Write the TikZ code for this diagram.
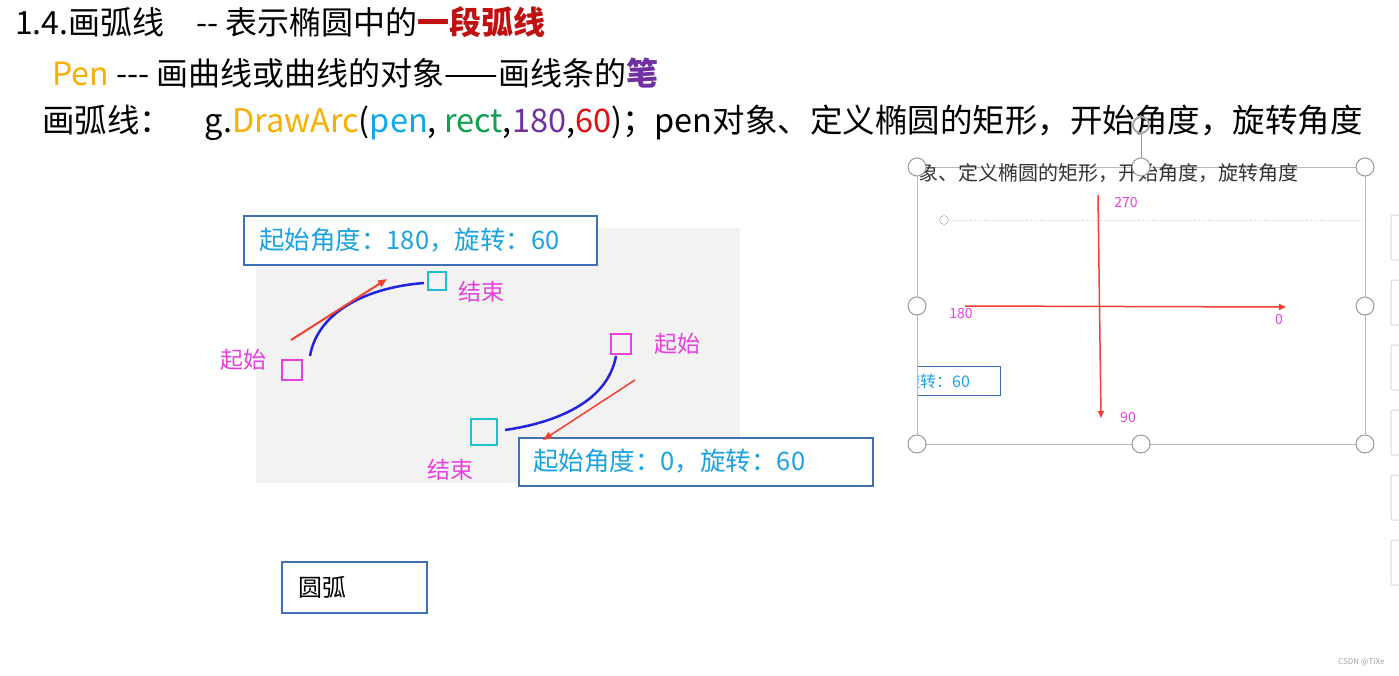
\documentclass[tikz,border=0pt]{standalone}
\usepackage{fontspec}
\setmainfont{Noto Sans CJK SC}
\usetikzlibrary{arrows.meta}
\definecolor{bxline}{HTML}{3F6FB5}
\definecolor{bxtext}{HTML}{1AA3E0}
\definecolor{mag}{HTML}{E83FE0}
\definecolor{cya}{HTML}{1CC0D0}
\definecolor{arcb}{HTML}{2222E0}
\definecolor{arr}{HTML}{F04030}
\definecolor{penor}{HTML}{F5B000}
\definecolor{cblue}{HTML}{10A8E8}
\definecolor{cgreen}{HTML}{10A050}
\definecolor{cpurple}{HTML}{7030A0}
\definecolor{cred}{HTML}{E01010}
\definecolor{dred}{HTML}{C01010}
\definecolor{hgray}{HTML}{999999}
\begin{document}
\begin{tikzpicture}[x=1pt,y=-1pt,
  lbox/.style={draw=bxline,line width=1.6pt,fill=white,anchor=north west,inner sep=0pt},
  btext/.style={text=bxtext,font=\fontsize{25.5}{28}\selectfont,anchor=west,inner sep=0pt},
  maglbl/.style={text=mag,font=\fontsize{23}{26}\selectfont},
  msq/.style={draw=mag,line width=2.5pt},
  csq/.style={draw=cya,line width=2.5pt},
  blarc/.style={draw=arcb,line width=2.5pt},
  redarr/.style={draw=arr,line width=2pt,-{Triangle[length=9pt,width=7pt]}},
  handle/.style={circle,draw=hgray,fill=white,line width=1pt,minimum size=18pt,inner sep=0pt},
  axlbl/.style={text=mag,font=\fontsize{14}{16}\selectfont}]
\useasboundingbox (0,0) rectangle (1399,675);
\fill[white] (0,0) rectangle (1399,675);
\node[anchor=west,inner sep=0pt,font=\fontsize{32}{35}\selectfont] (t1) at (15,22) {1.4.画弧线\quad{-}{-} 表示椭圆中的\textcolor{dred}{\textbf{一段弧线}}};
\node[anchor=west,inner sep=0pt,font=\fontsize{32}{35}\selectfont] (t2) at (52,73) {\textcolor{penor}{Pen} {-}{-}{-} 画曲线或曲线的对象——画线条的\textcolor{cpurple}{\textbf{笔}}};
\node[anchor=west,inner sep=0pt,font=\fontsize{32.5}{35}\selectfont] (t3) at (42,123) {画弧线：\quad g.\textcolor{penor}{DrawArc}(\textcolor{cblue}{pen}, \textcolor{cgreen}{rect},\textcolor{cpurple}{180},\textcolor{cred}{60})；pen对象、定义椭圆的矩形，开始角度，旋转角度};
% left panel
\fill[gray!10] (256,228) rectangle (740,483);
\node[lbox,minimum width=353pt,minimum height=49pt] (b1) at (243,215) {};
\node[btext] (b1t) at (259,240) {起始角度：180，旋转：60};
\node[lbox,minimum width=354pt,minimum height=48pt] (b2) at (518,437) {};
\node[btext] (b2t) at (533,461) {起始角度：0，旋转：60};
\node[lbox,minimum width=145pt,minimum height=51pt] (b3) at (281,561) {};
\node[anchor=west,inner sep=0pt,font=\fontsize{24}{26}\selectfont] (b3t) at (298,587) {圆弧};
\node[msq,minimum size=20pt,inner sep=0pt] (s1) at (292,370) {};
\node[csq,minimum size=18pt,inner sep=0pt] (e1) at (437,281) {};
\node[msq,minimum size=20pt,inner sep=0pt] (s2) at (621,344) {};
\node[csq,minimum size=26pt,inner sep=0pt] (e2) at (484,432) {};
\draw[blarc] (310,356) .. controls (318,310) and (370,287) .. (424,283);
\draw[blarc] (616,356) .. controls (608,400) and (560,422) .. (505,430);
\coordinate (a1s) at (291,340); \coordinate (a1e) at (387,279);
\coordinate (a2s) at (635,380); \coordinate (a2e) at (543,440);
\draw[redarr] (a1s) -- (a1e);
\draw[redarr,line width=1.5pt] (a2s) -- (a2e);
\node[maglbl] (l1) at (243,360) {起始};
\node[maglbl] (l2) at (481,292) {结束};
\node[maglbl] (l3) at (677,344) {起始};
\node[maglbl] (l4) at (450,470) {结束};
% right panel
\draw[hgray!70,line width=1pt] (917,167) rectangle (1365,444);
\begin{scope}
\clip (918,160) rectangle (1364,443);
\node[anchor=west,inner sep=0pt,font=\fontsize{20}{22}\selectfont,text=black!80] (rt) at (898,173) {对象、定义椭圆的矩形，开始角度，旋转角度};
\node[draw=bxline,line width=1.3pt,fill=white,anchor=west,minimum width=120pt,minimum height=29pt,inner sep=0pt] (rb) at (880,381) {};
\node[anchor=west,inner sep=0pt,text=bxtext,font=\fontsize{16}{18}\selectfont] (rbt) at (904,381) {旋转：60};
\end{scope}
\draw[gray!40,dotted,line width=0.8pt] (950,220) -- (1362,220);
\node[circle,draw=hgray,fill=white,minimum size=9pt,inner sep=0pt] (sc) at (944,220) {};
\coordinate (hx1) at (965,306); \coordinate (hx2) at (1286,307);
\coordinate (vy1) at (1098,195); \coordinate (vy2) at (1101,418);
\draw[arr,line width=1.5pt,-{Triangle[length=7pt,width=6pt]}] (hx1) -- (hx2);
\draw[arr,line width=1.5pt,-{Triangle[length=7pt,width=6pt]}] (vy1) -- (vy2);
\node[axlbl] (n270) at (1126,203) {270};
\node[axlbl] (n180) at (961,314) {180};
\node[axlbl] (n0) at (1279,320) {0};
\node[axlbl] (n90) at (1128,418) {90};
\draw[hgray,line width=1pt] (1141,167) -- (1141,130);
\foreach \p/\q in {h1/{917,167},h2/{1141,167},h3/{1365,167},h4/{917,306},h5/{1365,306},h6/{917,444},h7/{1141,444},h8/{1365,444}}
  \node[handle] (\p) at (\q) {};
\node[circle,draw=gray!70,line width=2pt,minimum size=16pt,inner sep=0pt] (rot) at (1141,125) {};
% right edge toolbar
\foreach \yy in {215,280,345,410,475,540}
  \draw[gray!30,line width=1pt,rounded corners=2pt] (1399,\yy) -- (1391,\yy) -- (1391,\yy+45) -- (1399,\yy+45);
\node[anchor=east,text=gray!70,font=\fontsize{8}{9}\selectfont] (wm) at (1388,662) {CSDN @TiXe};
\end{tikzpicture}
\end{document}
